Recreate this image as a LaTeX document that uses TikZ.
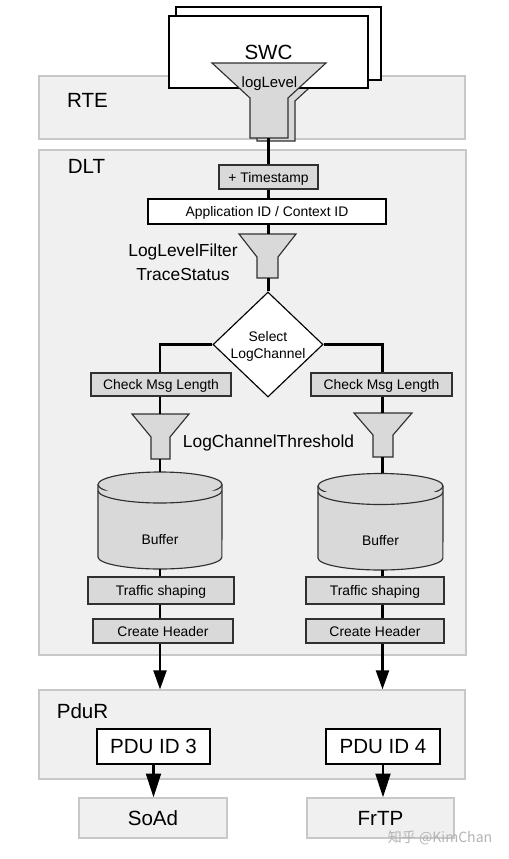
\documentclass[tikz,border=0pt]{standalone}
\usepackage{fontspec}
\setmainfont{Liberation Sans}
\newfontfamily\cjkfont{Noto Sans CJK SC}
\usetikzlibrary{shapes.geometric,arrows.meta}
\definecolor{lay}{HTML}{F0F0F0}
\definecolor{layb}{HTML}{C8C8C8}
\definecolor{gfill}{HTML}{D9D9D9}
\definecolor{gline}{HTML}{303030}
\definecolor{wm}{HTML}{B4B4B4}
\newcommand\fntS{\fontsize{7.9}{9.5}\selectfont}
\newcommand\fntM{\fontsize{9.9}{12}\selectfont}
\newcommand\fntB{\fontsize{11.7}{14}\selectfont}
\newcommand\fntL{\fontsize{8.5}{10}\selectfont}
\newcommand\fntW{\fontsize{8}{9}\selectfont}
\newcommand\funnelat[7]{%
  \draw[funnelst] ({#2-#4},#3) -- ({#2+#4},#3) -- ({#2+#5},#6) -- ({#2+#5},#7) -- ({#2-#5},#7) -- ({#2-#5},#6) -- cycle;
  \node[inner sep=0pt, rect={#2-#4}{#3}{#2+#4}{#7}] (#1) {};}
\newcommand\cylat[6]{% name, left, right, ytop-center, ybottom-center, lid offset
  \filldraw[cylst] (#2,#4) -- (#2,#5) arc[start angle=180, end angle=360, x radius={(#3-#2)*0.01cm}, y radius=0.24cm]
    -- (#3,#4) arc[start angle=0, end angle=180, x radius={(#3-#2)*0.01cm}, y radius=0.25cm] -- cycle;
  \draw[cylst] (#2,#4) arc[start angle=180, end angle=360, x radius={(#3-#2)*0.01cm}, y radius=0.25cm];
  \draw[cylst] (#2,#4+#6) arc[start angle=180, end angle=360, x radius={(#3-#2)*0.01cm}, y radius=0.25cm];
  \node[inner sep=0pt, rect={#2}{#4-12.5}{#3}{#5+12}] (#1) {};}
\begin{document}
\begin{tikzpicture}[x=0.02cm,y=-0.02cm,
  rect/.style n args={4}{at={({(#1+#3)/2},{(#2+#4)/2})}, minimum width={(#3-(#1))*0.02cm}, minimum height={(#4-(#2))*0.02cm}},
  layer/.style={fill=lay, draw=layb, line width=0.7pt, inner sep=0pt},
  gbox/.style={fill=gfill, draw=gline, line width=0.65pt, inner sep=0pt, font=\fntS, text height=5.7pt, text depth=0pt},
  wbox/.style={fill=white, draw=black, line width=0.65pt, inner sep=0pt, font=\fntS, text height=5.7pt, text depth=0pt},
  bigbox/.style={fill=white, draw=black, line width=0.85pt, inner sep=0pt, font=\fntB, text height=8.4pt, text depth=0pt},
  laybox/.style={layer, font=\fntB, text height=8.4pt, text depth=0pt},
  swcbox/.style={fill=white, draw=black, line width=0.75pt, inner sep=0pt},
  conn/.style={line width=1.25pt, draw=black},
  funnelst/.style={fill=gfill, draw=gline, line width=0.65pt, line join=miter},
  cylst/.style={fill=gfill, draw=gline, line width=0.65pt},
  lbl/.style={inner sep=0pt, anchor=base},
  tipA/.style={-{Triangle[length=10.8pt,width=7.4pt]}},
  tipB/.style={-{Triangle[length=13.6pt,width=8.5pt]}},
  decide/.style={diamond, draw=black, fill=white, line width=0.65pt, inner sep=0pt}
]
\fill[white] (0,0) rectangle (508,859);
\useasboundingbox (0,0) rectangle (508,859);

% columns
\coordinate (colM) at (268.5,0);
\coordinate (colL) at (160,0);
\coordinate (colR) at (382.5,0);

% layers
\node[layer, rect={39}{76}{465}{139}] (rte) {};
\node[lbl, font=\fntB] (rtel) at (87.5,107) {RTE};
\node[layer, rect={39}{150}{466}{655}] (dlt) {};
\node[lbl, font=\fntB] (dltl) at (86.5,173) {DLT};
\node[layer, rect={39}{690}{465}{779}] (pdur) {};
\node[lbl, font=\fntB] (pdurl) at (82.5,718) {PduR};

% SWC stack with logLevel funnel
\node[swcbox, rect={176}{7}{381}{80}] (swcback) {};
\funnelat{ffshadow}{276}{66}{57}{19}{101}{141}
\node[swcbox, rect={169}{16}{368}{88}, font=\fntB, text height=8.4pt, text depth=0pt] (swc) {SWC};
\funnelat{ffmain}{269}{63}{57}{19}{98}{138}
\node[lbl, font=\fntL] (loglevel) at (269.5,87) {logLevel};

% DLT contents
\node[gbox, rect={219}{165}{318}{189}] (ts) {+ Timestamp};
\node[wbox, rect={148}{199}{386}{224}] (appid) {Application ID / Context ID};
\funnelat{fflf}{267.5}{234}{28.5}{10.5}{257}{278}
\node[lbl, font=\fntM] (llf) at (183,256) {LogLevelFilter};
\node[lbl, font=\fntM] (trs) at (183,280) {TraceStatus};
\node[decide, minimum width=110*0.02cm, minimum height=105*0.02cm] (dia) at (268,344.5) {};
\node[lbl, font=\fntS] (sel1) at (268,341) {Select};
\node[lbl, font=\fntS] (sel2) at (268,358) {LogChannel};

\node[gbox, rect={91}{373}{231}{396}] (chkL) {Check Msg Length};
\node[gbox, rect={311}{373}{452}{396}] (chkR) {Check Msg Length};
\funnelat{ffL}{160.5}{414}{28.5}{9.5}{437}{459}
\funnelat{ffR}{383}{413}{29}{10}{435}{457}
\node[lbl, font=\fntM] (lct) at (268.5,447) {LogChannelThreshold};

\cylat{bufL}{98}{222}{484.5}{557}{6}
\cylat{bufR}{318}{443}{486}{558}{6}
\node[lbl, font=\fntS] (bufLt) at (160,544) {Buffer};
\node[lbl, font=\fntS] (bufRt) at (380.5,545) {Buffer};

\node[gbox, rect={88}{577}{234}{604}] (tsL) {Traffic shaping};
\node[gbox, rect={306}{577}{444}{604}] (tsR) {Traffic shaping};
\node[gbox, rect={93}{619}{233}{643}] (chL) {Create Header};
\node[gbox, rect={306}{619}{444}{643}] (chR) {Create Header};

% PduR contents
\node[bigbox, rect={97}{729}{210}{764}] (pdu3) {PDU ID 3};
\node[bigbox, rect={326}{729}{440}{764}] (pdu4) {PDU ID 4};
\node[laybox, rect={79}{798}{227}{838}] (soad) {SoAd};
\node[laybox, rect={307}{798}{454}{838}] (frtp) {FrTP};

% connectors - main column
\draw[conn] (ffmain.south -| colM) -- (ts.north -| colM);
\draw[conn] (ts.south -| colM) -- (appid.north -| colM);
\draw[conn] (appid.south -| colM) -- (fflf.north -| colM);
\draw[conn] (fflf.south -| colM) -- (dia.north -| colM);
% left column
\draw[conn] (dia.west) -| (chkL.north -| colL);
\draw[conn] (chkL.south -| colL) -- (ffL.north -| colL);
\draw[conn] (ffL.south -| colL) -- (bufL.north -| colL);
\draw[conn] (bufL.south -| colL) -- (tsL.north -| colL);
\draw[conn] (tsL.south -| colL) -- (chL.north -| colL);
\draw[conn, tipA] (chL.south -| colL) -- (pdur.north -| colL);
\draw[conn, tipB] (pdu3.south) -- (soad.north -| pdu3.south);
% right column
\draw[conn] (dia.east) -| (chkR.north -| colR);
\draw[conn] (chkR.south -| colR) -- (ffR.north -| colR);
\draw[conn] (ffR.south -| colR) -- (bufR.north -| colR);
\draw[conn] (bufR.south -| colR) -- (tsR.north -| colR);
\draw[conn] (tsR.south -| colR) -- (chR.north -| colR);
\draw[conn, tipA] (chR.south -| colR) -- (pdur.north -| colR);
\draw[conn, tipB] (pdu4.south) -- (frtp.north -| pdu4.south);

% watermark
\node[lbl, font=\cjkfont\fntW, text=wm] (wmark) at (440,842) {知乎 @KimChan};
\end{tikzpicture}
\end{document}
